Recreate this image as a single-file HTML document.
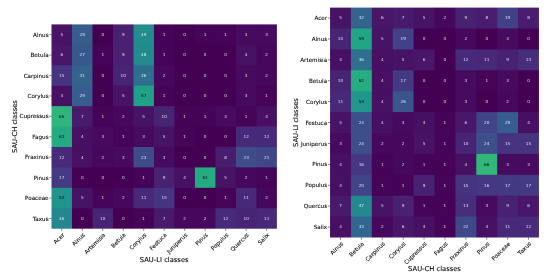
<!DOCTYPE html>
<html><head><meta charset="utf-8"><title>Confusion matrices</title>
<style>html,body{margin:0;padding:0;background:#fff;}body{width:550px;height:278px;overflow:hidden;}svg{display:block;}</style>
</head><body>
<svg width="550" height="278" viewBox="0 0 550 278" font-family="DejaVu Sans, Liberation Sans, sans-serif">
<rect width="550" height="278" fill="#fff"/>
<mask id="clCH" maskUnits="userSpaceOnUse" x="0" y="0" width="550" height="278"><rect x="51.50" y="24.40" width="225.40" height="204.30" fill="#fff"/></mask>
<g mask="url(#clCH)">
<rect x="50.30" y="23.20" width="22.89" height="22.83" fill="#471365"/>
<rect x="71.99" y="23.20" width="21.69" height="22.83" fill="#365d8d"/>
<rect x="92.48" y="23.20" width="21.69" height="22.83" fill="#440154"/>
<rect x="112.97" y="23.20" width="21.69" height="22.83" fill="#482173"/>
<rect x="133.46" y="23.20" width="21.69" height="22.83" fill="#218e8d"/>
<rect x="153.95" y="23.20" width="21.69" height="22.83" fill="#450457"/>
<rect x="174.45" y="23.20" width="21.69" height="22.83" fill="#440154"/>
<rect x="194.94" y="23.20" width="21.69" height="22.83" fill="#450457"/>
<rect x="215.43" y="23.20" width="21.69" height="22.83" fill="#450457"/>
<rect x="235.92" y="23.20" width="21.69" height="22.83" fill="#460b5e"/>
<rect x="256.41" y="23.20" width="21.69" height="22.83" fill="#460b5e"/>
<rect x="50.30" y="44.83" width="22.89" height="21.63" fill="#481769"/>
<rect x="71.99" y="44.83" width="21.69" height="21.63" fill="#38588c"/>
<rect x="92.48" y="44.83" width="21.69" height="21.63" fill="#450457"/>
<rect x="112.97" y="44.83" width="21.69" height="21.63" fill="#482173"/>
<rect x="133.46" y="44.83" width="21.69" height="21.63" fill="#228b8d"/>
<rect x="153.95" y="44.83" width="21.69" height="21.63" fill="#450457"/>
<rect x="174.45" y="44.83" width="21.69" height="21.63" fill="#440154"/>
<rect x="194.94" y="44.83" width="21.69" height="21.63" fill="#440154"/>
<rect x="215.43" y="44.83" width="21.69" height="21.63" fill="#440154"/>
<rect x="235.92" y="44.83" width="21.69" height="21.63" fill="#471063"/>
<rect x="256.41" y="44.83" width="21.69" height="21.63" fill="#46085c"/>
<rect x="50.30" y="65.26" width="22.89" height="21.63" fill="#463480"/>
<rect x="71.99" y="65.26" width="21.69" height="21.63" fill="#33628d"/>
<rect x="92.48" y="65.26" width="21.69" height="21.63" fill="#440154"/>
<rect x="112.97" y="65.26" width="21.69" height="21.63" fill="#482475"/>
<rect x="133.46" y="65.26" width="21.69" height="21.63" fill="#2e6f8e"/>
<rect x="153.95" y="65.26" width="21.69" height="21.63" fill="#46085c"/>
<rect x="174.45" y="65.26" width="21.69" height="21.63" fill="#440154"/>
<rect x="194.94" y="65.26" width="21.69" height="21.63" fill="#440154"/>
<rect x="215.43" y="65.26" width="21.69" height="21.63" fill="#440154"/>
<rect x="235.92" y="65.26" width="21.69" height="21.63" fill="#460b5e"/>
<rect x="256.41" y="65.26" width="21.69" height="21.63" fill="#46085c"/>
<rect x="50.30" y="85.69" width="22.89" height="21.63" fill="#471063"/>
<rect x="71.99" y="85.69" width="21.69" height="21.63" fill="#365d8d"/>
<rect x="92.48" y="85.69" width="21.69" height="21.63" fill="#440154"/>
<rect x="112.97" y="85.69" width="21.69" height="21.63" fill="#471365"/>
<rect x="133.46" y="85.69" width="21.69" height="21.63" fill="#1fa188"/>
<rect x="153.95" y="85.69" width="21.69" height="21.63" fill="#450457"/>
<rect x="174.45" y="85.69" width="21.69" height="21.63" fill="#440154"/>
<rect x="194.94" y="85.69" width="21.69" height="21.63" fill="#440154"/>
<rect x="215.43" y="85.69" width="21.69" height="21.63" fill="#440154"/>
<rect x="235.92" y="85.69" width="21.69" height="21.63" fill="#460b5e"/>
<rect x="256.41" y="85.69" width="21.69" height="21.63" fill="#450457"/>
<rect x="50.30" y="106.12" width="22.89" height="21.63" fill="#2fb47c"/>
<rect x="71.99" y="106.12" width="21.69" height="21.63" fill="#481a6c"/>
<rect x="92.48" y="106.12" width="21.69" height="21.63" fill="#450457"/>
<rect x="112.97" y="106.12" width="21.69" height="21.63" fill="#46085c"/>
<rect x="133.46" y="106.12" width="21.69" height="21.63" fill="#471365"/>
<rect x="153.95" y="106.12" width="21.69" height="21.63" fill="#482475"/>
<rect x="174.45" y="106.12" width="21.69" height="21.63" fill="#450457"/>
<rect x="194.94" y="106.12" width="21.69" height="21.63" fill="#450457"/>
<rect x="215.43" y="106.12" width="21.69" height="21.63" fill="#460b5e"/>
<rect x="235.92" y="106.12" width="21.69" height="21.63" fill="#450457"/>
<rect x="256.41" y="106.12" width="21.69" height="21.63" fill="#471063"/>
<rect x="50.30" y="126.55" width="22.89" height="21.63" fill="#25ab82"/>
<rect x="71.99" y="126.55" width="21.69" height="21.63" fill="#471063"/>
<rect x="92.48" y="126.55" width="21.69" height="21.63" fill="#460b5e"/>
<rect x="112.97" y="126.55" width="21.69" height="21.63" fill="#450457"/>
<rect x="133.46" y="126.55" width="21.69" height="21.63" fill="#460b5e"/>
<rect x="153.95" y="126.55" width="21.69" height="21.63" fill="#471365"/>
<rect x="174.45" y="126.55" width="21.69" height="21.63" fill="#450457"/>
<rect x="194.94" y="126.55" width="21.69" height="21.63" fill="#440154"/>
<rect x="215.43" y="126.55" width="21.69" height="21.63" fill="#440154"/>
<rect x="235.92" y="126.55" width="21.69" height="21.63" fill="#472a7a"/>
<rect x="256.41" y="126.55" width="21.69" height="21.63" fill="#472a7a"/>
<rect x="50.30" y="146.98" width="22.89" height="21.63" fill="#472a7a"/>
<rect x="71.99" y="146.98" width="21.69" height="21.63" fill="#471063"/>
<rect x="92.48" y="146.98" width="21.69" height="21.63" fill="#46085c"/>
<rect x="112.97" y="146.98" width="21.69" height="21.63" fill="#460b5e"/>
<rect x="133.46" y="146.98" width="21.69" height="21.63" fill="#3e4c8a"/>
<rect x="153.95" y="146.98" width="21.69" height="21.63" fill="#460b5e"/>
<rect x="174.45" y="146.98" width="21.69" height="21.63" fill="#440154"/>
<rect x="194.94" y="146.98" width="21.69" height="21.63" fill="#440154"/>
<rect x="215.43" y="146.98" width="21.69" height="21.63" fill="#481d6f"/>
<rect x="235.92" y="146.98" width="21.69" height="21.63" fill="#3e4c8a"/>
<rect x="256.41" y="146.98" width="21.69" height="21.63" fill="#404688"/>
<rect x="50.30" y="167.41" width="22.89" height="21.63" fill="#443a83"/>
<rect x="71.99" y="167.41" width="21.69" height="21.63" fill="#440154"/>
<rect x="92.48" y="167.41" width="21.69" height="21.63" fill="#440154"/>
<rect x="112.97" y="167.41" width="21.69" height="21.63" fill="#440154"/>
<rect x="133.46" y="167.41" width="21.69" height="21.63" fill="#450457"/>
<rect x="153.95" y="167.41" width="21.69" height="21.63" fill="#482173"/>
<rect x="174.45" y="167.41" width="21.69" height="21.63" fill="#471063"/>
<rect x="194.94" y="167.41" width="21.69" height="21.63" fill="#25ab82"/>
<rect x="215.43" y="167.41" width="21.69" height="21.63" fill="#471365"/>
<rect x="235.92" y="167.41" width="21.69" height="21.63" fill="#46085c"/>
<rect x="256.41" y="167.41" width="21.69" height="21.63" fill="#450457"/>
<rect x="50.30" y="187.84" width="22.89" height="21.63" fill="#1f958b"/>
<rect x="71.99" y="187.84" width="21.69" height="21.63" fill="#471365"/>
<rect x="92.48" y="187.84" width="21.69" height="21.63" fill="#450457"/>
<rect x="112.97" y="187.84" width="21.69" height="21.63" fill="#46085c"/>
<rect x="133.46" y="187.84" width="21.69" height="21.63" fill="#482878"/>
<rect x="153.95" y="187.84" width="21.69" height="21.63" fill="#463480"/>
<rect x="174.45" y="187.84" width="21.69" height="21.63" fill="#440154"/>
<rect x="194.94" y="187.84" width="21.69" height="21.63" fill="#440154"/>
<rect x="215.43" y="187.84" width="21.69" height="21.63" fill="#450457"/>
<rect x="235.92" y="187.84" width="21.69" height="21.63" fill="#482878"/>
<rect x="256.41" y="187.84" width="21.69" height="21.63" fill="#46085c"/>
<rect x="50.30" y="208.27" width="22.89" height="21.63" fill="#24868e"/>
<rect x="71.99" y="208.27" width="21.69" height="21.63" fill="#440154"/>
<rect x="92.48" y="208.27" width="21.69" height="21.63" fill="#482475"/>
<rect x="112.97" y="208.27" width="21.69" height="21.63" fill="#440154"/>
<rect x="133.46" y="208.27" width="21.69" height="21.63" fill="#450457"/>
<rect x="153.95" y="208.27" width="21.69" height="21.63" fill="#481a6c"/>
<rect x="174.45" y="208.27" width="21.69" height="21.63" fill="#46085c"/>
<rect x="194.94" y="208.27" width="21.69" height="21.63" fill="#46085c"/>
<rect x="215.43" y="208.27" width="21.69" height="21.63" fill="#472a7a"/>
<rect x="235.92" y="208.27" width="21.69" height="21.63" fill="#482475"/>
<rect x="256.41" y="208.27" width="21.69" height="21.63" fill="#482878"/>
</g>
<g font-size="4.2" text-anchor="middle">
<text x="61.75" y="35.93" fill="#ffffff" fill-opacity="0.82">5</text>
<text x="82.24" y="35.93" fill="#ffffff" fill-opacity="0.82">29</text>
<text x="102.73" y="35.93" fill="#ffffff" fill-opacity="0.82">0</text>
<text x="123.22" y="35.93" fill="#ffffff" fill-opacity="0.82">9</text>
<text x="143.71" y="35.93" fill="#ffffff" fill-opacity="0.82">49</text>
<text x="164.20" y="35.93" fill="#ffffff" fill-opacity="0.82">1</text>
<text x="184.69" y="35.93" fill="#ffffff" fill-opacity="0.82">0</text>
<text x="205.18" y="35.93" fill="#ffffff" fill-opacity="0.82">1</text>
<text x="225.67" y="35.93" fill="#ffffff" fill-opacity="0.82">1</text>
<text x="246.16" y="35.93" fill="#ffffff" fill-opacity="0.82">3</text>
<text x="266.65" y="35.93" fill="#ffffff" fill-opacity="0.82">3</text>
<text x="61.75" y="56.36" fill="#ffffff" fill-opacity="0.82">6</text>
<text x="82.24" y="56.36" fill="#ffffff" fill-opacity="0.82">27</text>
<text x="102.73" y="56.36" fill="#ffffff" fill-opacity="0.82">1</text>
<text x="123.22" y="56.36" fill="#ffffff" fill-opacity="0.82">9</text>
<text x="143.71" y="56.36" fill="#ffffff" fill-opacity="0.82">48</text>
<text x="164.20" y="56.36" fill="#ffffff" fill-opacity="0.82">1</text>
<text x="184.69" y="56.36" fill="#ffffff" fill-opacity="0.82">0</text>
<text x="205.18" y="56.36" fill="#ffffff" fill-opacity="0.82">0</text>
<text x="225.67" y="56.36" fill="#ffffff" fill-opacity="0.82">0</text>
<text x="246.16" y="56.36" fill="#ffffff" fill-opacity="0.82">4</text>
<text x="266.65" y="56.36" fill="#ffffff" fill-opacity="0.82">2</text>
<text x="61.75" y="76.79" fill="#ffffff" fill-opacity="0.82">15</text>
<text x="82.24" y="76.79" fill="#ffffff" fill-opacity="0.82">31</text>
<text x="102.73" y="76.79" fill="#ffffff" fill-opacity="0.82">0</text>
<text x="123.22" y="76.79" fill="#ffffff" fill-opacity="0.82">10</text>
<text x="143.71" y="76.79" fill="#ffffff" fill-opacity="0.82">36</text>
<text x="164.20" y="76.79" fill="#ffffff" fill-opacity="0.82">2</text>
<text x="184.69" y="76.79" fill="#ffffff" fill-opacity="0.82">0</text>
<text x="205.18" y="76.79" fill="#ffffff" fill-opacity="0.82">0</text>
<text x="225.67" y="76.79" fill="#ffffff" fill-opacity="0.82">0</text>
<text x="246.16" y="76.79" fill="#ffffff" fill-opacity="0.82">3</text>
<text x="266.65" y="76.79" fill="#ffffff" fill-opacity="0.82">2</text>
<text x="61.75" y="97.22" fill="#ffffff" fill-opacity="0.82">4</text>
<text x="82.24" y="97.22" fill="#ffffff" fill-opacity="0.82">29</text>
<text x="102.73" y="97.22" fill="#ffffff" fill-opacity="0.82">0</text>
<text x="123.22" y="97.22" fill="#ffffff" fill-opacity="0.82">5</text>
<text x="143.71" y="97.22" fill="#000000">57</text>
<text x="164.20" y="97.22" fill="#ffffff" fill-opacity="0.82">1</text>
<text x="184.69" y="97.22" fill="#ffffff" fill-opacity="0.82">0</text>
<text x="205.18" y="97.22" fill="#ffffff" fill-opacity="0.82">0</text>
<text x="225.67" y="97.22" fill="#ffffff" fill-opacity="0.82">0</text>
<text x="246.16" y="97.22" fill="#ffffff" fill-opacity="0.82">3</text>
<text x="266.65" y="97.22" fill="#ffffff" fill-opacity="0.82">1</text>
<text x="61.75" y="117.65" fill="#000000">65</text>
<text x="82.24" y="117.65" fill="#ffffff" fill-opacity="0.82">7</text>
<text x="102.73" y="117.65" fill="#ffffff" fill-opacity="0.82">1</text>
<text x="123.22" y="117.65" fill="#ffffff" fill-opacity="0.82">2</text>
<text x="143.71" y="117.65" fill="#ffffff" fill-opacity="0.82">5</text>
<text x="164.20" y="117.65" fill="#ffffff" fill-opacity="0.82">10</text>
<text x="184.69" y="117.65" fill="#ffffff" fill-opacity="0.82">1</text>
<text x="205.18" y="117.65" fill="#ffffff" fill-opacity="0.82">1</text>
<text x="225.67" y="117.65" fill="#ffffff" fill-opacity="0.82">3</text>
<text x="246.16" y="117.65" fill="#ffffff" fill-opacity="0.82">1</text>
<text x="266.65" y="117.65" fill="#ffffff" fill-opacity="0.82">4</text>
<text x="61.75" y="138.08" fill="#000000">61</text>
<text x="82.24" y="138.08" fill="#ffffff" fill-opacity="0.82">4</text>
<text x="102.73" y="138.08" fill="#ffffff" fill-opacity="0.82">3</text>
<text x="123.22" y="138.08" fill="#ffffff" fill-opacity="0.82">1</text>
<text x="143.71" y="138.08" fill="#ffffff" fill-opacity="0.82">3</text>
<text x="164.20" y="138.08" fill="#ffffff" fill-opacity="0.82">5</text>
<text x="184.69" y="138.08" fill="#ffffff" fill-opacity="0.82">1</text>
<text x="205.18" y="138.08" fill="#ffffff" fill-opacity="0.82">0</text>
<text x="225.67" y="138.08" fill="#ffffff" fill-opacity="0.82">0</text>
<text x="246.16" y="138.08" fill="#ffffff" fill-opacity="0.82">12</text>
<text x="266.65" y="138.08" fill="#ffffff" fill-opacity="0.82">12</text>
<text x="61.75" y="158.51" fill="#ffffff" fill-opacity="0.82">12</text>
<text x="82.24" y="158.51" fill="#ffffff" fill-opacity="0.82">4</text>
<text x="102.73" y="158.51" fill="#ffffff" fill-opacity="0.82">2</text>
<text x="123.22" y="158.51" fill="#ffffff" fill-opacity="0.82">3</text>
<text x="143.71" y="158.51" fill="#ffffff" fill-opacity="0.82">23</text>
<text x="164.20" y="158.51" fill="#ffffff" fill-opacity="0.82">3</text>
<text x="184.69" y="158.51" fill="#ffffff" fill-opacity="0.82">0</text>
<text x="205.18" y="158.51" fill="#ffffff" fill-opacity="0.82">0</text>
<text x="225.67" y="158.51" fill="#ffffff" fill-opacity="0.82">8</text>
<text x="246.16" y="158.51" fill="#ffffff" fill-opacity="0.82">23</text>
<text x="266.65" y="158.51" fill="#ffffff" fill-opacity="0.82">21</text>
<text x="61.75" y="178.94" fill="#ffffff" fill-opacity="0.82">17</text>
<text x="82.24" y="178.94" fill="#ffffff" fill-opacity="0.82">0</text>
<text x="102.73" y="178.94" fill="#ffffff" fill-opacity="0.82">0</text>
<text x="123.22" y="178.94" fill="#ffffff" fill-opacity="0.82">0</text>
<text x="143.71" y="178.94" fill="#ffffff" fill-opacity="0.82">1</text>
<text x="164.20" y="178.94" fill="#ffffff" fill-opacity="0.82">9</text>
<text x="184.69" y="178.94" fill="#ffffff" fill-opacity="0.82">4</text>
<text x="205.18" y="178.94" fill="#000000">61</text>
<text x="225.67" y="178.94" fill="#ffffff" fill-opacity="0.82">5</text>
<text x="246.16" y="178.94" fill="#ffffff" fill-opacity="0.82">2</text>
<text x="266.65" y="178.94" fill="#ffffff" fill-opacity="0.82">1</text>
<text x="61.75" y="199.37" fill="#000000">52</text>
<text x="82.24" y="199.37" fill="#ffffff" fill-opacity="0.82">5</text>
<text x="102.73" y="199.37" fill="#ffffff" fill-opacity="0.82">1</text>
<text x="123.22" y="199.37" fill="#ffffff" fill-opacity="0.82">2</text>
<text x="143.71" y="199.37" fill="#ffffff" fill-opacity="0.82">11</text>
<text x="164.20" y="199.37" fill="#ffffff" fill-opacity="0.82">15</text>
<text x="184.69" y="199.37" fill="#ffffff" fill-opacity="0.82">0</text>
<text x="205.18" y="199.37" fill="#ffffff" fill-opacity="0.82">0</text>
<text x="225.67" y="199.37" fill="#ffffff" fill-opacity="0.82">1</text>
<text x="246.16" y="199.37" fill="#ffffff" fill-opacity="0.82">11</text>
<text x="266.65" y="199.37" fill="#ffffff" fill-opacity="0.82">2</text>
<text x="61.75" y="219.80" fill="#ffffff" fill-opacity="0.82">46</text>
<text x="82.24" y="219.80" fill="#ffffff" fill-opacity="0.82">0</text>
<text x="102.73" y="219.80" fill="#ffffff" fill-opacity="0.82">10</text>
<text x="123.22" y="219.80" fill="#ffffff" fill-opacity="0.82">0</text>
<text x="143.71" y="219.80" fill="#ffffff" fill-opacity="0.82">1</text>
<text x="164.20" y="219.80" fill="#ffffff" fill-opacity="0.82">7</text>
<text x="184.69" y="219.80" fill="#ffffff" fill-opacity="0.82">2</text>
<text x="205.18" y="219.80" fill="#ffffff" fill-opacity="0.82">2</text>
<text x="225.67" y="219.80" fill="#ffffff" fill-opacity="0.82">12</text>
<text x="246.16" y="219.80" fill="#ffffff" fill-opacity="0.82">10</text>
<text x="266.65" y="219.80" fill="#ffffff" fill-opacity="0.82">11</text>
</g>
<g stroke="#000" stroke-width="0.5">
<line x1="49.40" y1="34.61" x2="51.50" y2="34.61"/>
<line x1="49.40" y1="55.05" x2="51.50" y2="55.05"/>
<line x1="49.40" y1="75.47" x2="51.50" y2="75.47"/>
<line x1="49.40" y1="95.91" x2="51.50" y2="95.91"/>
<line x1="49.40" y1="116.34" x2="51.50" y2="116.34"/>
<line x1="49.40" y1="136.76" x2="51.50" y2="136.76"/>
<line x1="49.40" y1="157.19" x2="51.50" y2="157.19"/>
<line x1="49.40" y1="177.62" x2="51.50" y2="177.62"/>
<line x1="49.40" y1="198.06" x2="51.50" y2="198.06"/>
<line x1="49.40" y1="218.49" x2="51.50" y2="218.49"/>
<line x1="61.75" y1="228.70" x2="61.75" y2="230.80"/>
<line x1="82.24" y1="228.70" x2="82.24" y2="230.80"/>
<line x1="102.73" y1="228.70" x2="102.73" y2="230.80"/>
<line x1="123.22" y1="228.70" x2="123.22" y2="230.80"/>
<line x1="143.71" y1="228.70" x2="143.71" y2="230.80"/>
<line x1="164.20" y1="228.70" x2="164.20" y2="230.80"/>
<line x1="184.69" y1="228.70" x2="184.69" y2="230.80"/>
<line x1="205.18" y1="228.70" x2="205.18" y2="230.80"/>
<line x1="225.67" y1="228.70" x2="225.67" y2="230.80"/>
<line x1="246.16" y1="228.70" x2="246.16" y2="230.80"/>
<line x1="266.65" y1="228.70" x2="266.65" y2="230.80"/>
</g>
<g font-size="5.65" fill="#000" stroke="#000" stroke-width="0.08">
<text x="48.60" y="36.75" text-anchor="end">Alnus</text>
<text x="48.60" y="57.18" text-anchor="end">Betula</text>
<text x="48.60" y="77.61" text-anchor="end">Carpinus</text>
<text x="48.60" y="98.04" text-anchor="end">Corylus</text>
<text x="48.60" y="118.47" text-anchor="end">Cupressus</text>
<text x="48.60" y="138.90" text-anchor="end">Fagus</text>
<text x="48.60" y="159.33" text-anchor="end">Fraxinus</text>
<text x="48.60" y="179.76" text-anchor="end">Pinus</text>
<text x="48.60" y="200.19" text-anchor="end">Poaceae</text>
<text x="48.60" y="220.62" text-anchor="end">Taxus</text>
<text transform="translate(61.75,232.35) rotate(-45)" x="0" y="4.29" text-anchor="end">Acer</text>
<text transform="translate(82.24,232.35) rotate(-45)" x="0" y="4.29" text-anchor="end">Alnus</text>
<text transform="translate(102.73,232.35) rotate(-45)" x="0" y="4.29" text-anchor="end">Artemisia</text>
<text transform="translate(123.22,232.35) rotate(-45)" x="0" y="4.29" text-anchor="end">Betula</text>
<text transform="translate(143.71,232.35) rotate(-45)" x="0" y="4.29" text-anchor="end">Corylus</text>
<text transform="translate(164.20,232.35) rotate(-45)" x="0" y="4.29" text-anchor="end">Festuca</text>
<text transform="translate(184.69,232.35) rotate(-45)" x="0" y="4.29" text-anchor="end">Juniperus</text>
<text transform="translate(205.18,232.35) rotate(-45)" x="0" y="4.29" text-anchor="end">Pinus</text>
<text transform="translate(225.67,232.35) rotate(-45)" x="0" y="4.29" text-anchor="end">Populus</text>
<text transform="translate(246.16,232.35) rotate(-45)" x="0" y="4.29" text-anchor="end">Quercus</text>
<text transform="translate(266.65,232.35) rotate(-45)" x="0" y="4.29" text-anchor="end">Salix</text>
</g>
<g font-size="6.75" fill="#000" stroke="#000" stroke-width="0.08" text-anchor="middle">
<text x="164.20" y="262.00">SAU-LI classes</text>
<text transform="translate(16.70,126.55) rotate(-90)">SAU-CH classes</text>
</g>
<mask id="clLI" maskUnits="userSpaceOnUse" x="0" y="0" width="550" height="278"><rect x="330.05" y="7.60" width="208.90" height="229.90" fill="#fff"/></mask>
<g mask="url(#clLI)">
<rect x="328.85" y="6.40" width="23.29" height="23.30" fill="#471365"/>
<rect x="350.94" y="6.40" width="22.09" height="23.30" fill="#32648e"/>
<rect x="371.83" y="6.40" width="22.09" height="23.30" fill="#481769"/>
<rect x="392.72" y="6.40" width="22.09" height="23.30" fill="#481a6c"/>
<rect x="413.61" y="6.40" width="22.09" height="23.30" fill="#471365"/>
<rect x="434.50" y="6.40" width="22.09" height="23.30" fill="#46085c"/>
<rect x="455.39" y="6.40" width="22.09" height="23.30" fill="#482173"/>
<rect x="476.28" y="6.40" width="22.09" height="23.30" fill="#481d6f"/>
<rect x="497.17" y="6.40" width="22.09" height="23.30" fill="#424086"/>
<rect x="518.06" y="6.40" width="22.09" height="23.30" fill="#481d6f"/>
<rect x="328.85" y="28.50" width="23.29" height="22.10" fill="#482475"/>
<rect x="350.94" y="28.50" width="22.09" height="22.10" fill="#21a685"/>
<rect x="371.83" y="28.50" width="22.09" height="22.10" fill="#471365"/>
<rect x="392.72" y="28.50" width="22.09" height="22.10" fill="#424086"/>
<rect x="413.61" y="28.50" width="22.09" height="22.10" fill="#440154"/>
<rect x="434.50" y="28.50" width="22.09" height="22.10" fill="#440154"/>
<rect x="455.39" y="28.50" width="22.09" height="22.10" fill="#46085c"/>
<rect x="476.28" y="28.50" width="22.09" height="22.10" fill="#440154"/>
<rect x="497.17" y="28.50" width="22.09" height="22.10" fill="#460b5e"/>
<rect x="518.06" y="28.50" width="22.09" height="22.10" fill="#440154"/>
<rect x="328.85" y="49.40" width="23.29" height="22.10" fill="#471063"/>
<rect x="350.94" y="49.40" width="22.09" height="22.10" fill="#2e6f8e"/>
<rect x="371.83" y="49.40" width="22.09" height="22.10" fill="#471063"/>
<rect x="392.72" y="49.40" width="22.09" height="22.10" fill="#471365"/>
<rect x="413.61" y="49.40" width="22.09" height="22.10" fill="#481769"/>
<rect x="434.50" y="49.40" width="22.09" height="22.10" fill="#440154"/>
<rect x="455.39" y="49.40" width="22.09" height="22.10" fill="#472a7a"/>
<rect x="476.28" y="49.40" width="22.09" height="22.10" fill="#482878"/>
<rect x="497.17" y="49.40" width="22.09" height="22.10" fill="#482173"/>
<rect x="518.06" y="49.40" width="22.09" height="22.10" fill="#472e7c"/>
<rect x="328.85" y="70.30" width="23.29" height="22.10" fill="#482475"/>
<rect x="350.94" y="70.30" width="22.09" height="22.10" fill="#26ad81"/>
<rect x="371.83" y="70.30" width="22.09" height="22.10" fill="#471063"/>
<rect x="392.72" y="70.30" width="22.09" height="22.10" fill="#443a83"/>
<rect x="413.61" y="70.30" width="22.09" height="22.10" fill="#440154"/>
<rect x="434.50" y="70.30" width="22.09" height="22.10" fill="#440154"/>
<rect x="455.39" y="70.30" width="22.09" height="22.10" fill="#460b5e"/>
<rect x="476.28" y="70.30" width="22.09" height="22.10" fill="#450457"/>
<rect x="497.17" y="70.30" width="22.09" height="22.10" fill="#460b5e"/>
<rect x="518.06" y="70.30" width="22.09" height="22.10" fill="#440154"/>
<rect x="328.85" y="91.20" width="23.29" height="22.10" fill="#482878"/>
<rect x="350.94" y="91.20" width="22.09" height="22.10" fill="#1f978b"/>
<rect x="371.83" y="91.20" width="22.09" height="22.10" fill="#471063"/>
<rect x="392.72" y="91.20" width="22.09" height="22.10" fill="#3a548c"/>
<rect x="413.61" y="91.20" width="22.09" height="22.10" fill="#440154"/>
<rect x="434.50" y="91.20" width="22.09" height="22.10" fill="#440154"/>
<rect x="455.39" y="91.20" width="22.09" height="22.10" fill="#460b5e"/>
<rect x="476.28" y="91.20" width="22.09" height="22.10" fill="#440154"/>
<rect x="497.17" y="91.20" width="22.09" height="22.10" fill="#46085c"/>
<rect x="518.06" y="91.20" width="22.09" height="22.10" fill="#440154"/>
<rect x="328.85" y="112.10" width="23.29" height="22.10" fill="#471365"/>
<rect x="350.94" y="112.10" width="22.09" height="22.10" fill="#3c4f8a"/>
<rect x="371.83" y="112.10" width="22.09" height="22.10" fill="#471063"/>
<rect x="392.72" y="112.10" width="22.09" height="22.10" fill="#460b5e"/>
<rect x="413.61" y="112.10" width="22.09" height="22.10" fill="#471063"/>
<rect x="434.50" y="112.10" width="22.09" height="22.10" fill="#450457"/>
<rect x="455.39" y="112.10" width="22.09" height="22.10" fill="#481769"/>
<rect x="476.28" y="112.10" width="22.09" height="22.10" fill="#414487"/>
<rect x="497.17" y="112.10" width="22.09" height="22.10" fill="#365d8d"/>
<rect x="518.06" y="112.10" width="22.09" height="22.10" fill="#471063"/>
<rect x="328.85" y="133.00" width="23.29" height="22.10" fill="#460b5e"/>
<rect x="350.94" y="133.00" width="22.09" height="22.10" fill="#3c4f8a"/>
<rect x="371.83" y="133.00" width="22.09" height="22.10" fill="#46085c"/>
<rect x="392.72" y="133.00" width="22.09" height="22.10" fill="#46085c"/>
<rect x="413.61" y="133.00" width="22.09" height="22.10" fill="#471365"/>
<rect x="434.50" y="133.00" width="22.09" height="22.10" fill="#450457"/>
<rect x="455.39" y="133.00" width="22.09" height="22.10" fill="#482475"/>
<rect x="476.28" y="133.00" width="22.09" height="22.10" fill="#3c4f8a"/>
<rect x="497.17" y="133.00" width="22.09" height="22.10" fill="#463480"/>
<rect x="518.06" y="133.00" width="22.09" height="22.10" fill="#463480"/>
<rect x="328.85" y="153.90" width="23.29" height="22.10" fill="#471063"/>
<rect x="350.94" y="153.90" width="22.09" height="22.10" fill="#453781"/>
<rect x="371.83" y="153.90" width="22.09" height="22.10" fill="#450457"/>
<rect x="392.72" y="153.90" width="22.09" height="22.10" fill="#46085c"/>
<rect x="413.61" y="153.90" width="22.09" height="22.10" fill="#450457"/>
<rect x="434.50" y="153.90" width="22.09" height="22.10" fill="#450457"/>
<rect x="455.39" y="153.90" width="22.09" height="22.10" fill="#471063"/>
<rect x="476.28" y="153.90" width="22.09" height="22.10" fill="#32b67a"/>
<rect x="497.17" y="153.90" width="22.09" height="22.10" fill="#460b5e"/>
<rect x="518.06" y="153.90" width="22.09" height="22.10" fill="#460b5e"/>
<rect x="328.85" y="174.80" width="23.29" height="22.10" fill="#471063"/>
<rect x="350.94" y="174.80" width="22.09" height="22.10" fill="#414487"/>
<rect x="371.83" y="174.80" width="22.09" height="22.10" fill="#450457"/>
<rect x="392.72" y="174.80" width="22.09" height="22.10" fill="#450457"/>
<rect x="413.61" y="174.80" width="22.09" height="22.10" fill="#482173"/>
<rect x="434.50" y="174.80" width="22.09" height="22.10" fill="#450457"/>
<rect x="455.39" y="174.80" width="22.09" height="22.10" fill="#463480"/>
<rect x="476.28" y="174.80" width="22.09" height="22.10" fill="#453781"/>
<rect x="497.17" y="174.80" width="22.09" height="22.10" fill="#443a83"/>
<rect x="518.06" y="174.80" width="22.09" height="22.10" fill="#443a83"/>
<rect x="328.85" y="195.70" width="23.29" height="22.10" fill="#481a6c"/>
<rect x="350.94" y="195.70" width="22.09" height="22.10" fill="#23898e"/>
<rect x="371.83" y="195.70" width="22.09" height="22.10" fill="#471365"/>
<rect x="392.72" y="195.70" width="22.09" height="22.10" fill="#482173"/>
<rect x="413.61" y="195.70" width="22.09" height="22.10" fill="#450457"/>
<rect x="434.50" y="195.70" width="22.09" height="22.10" fill="#450457"/>
<rect x="455.39" y="195.70" width="22.09" height="22.10" fill="#472e7c"/>
<rect x="476.28" y="195.70" width="22.09" height="22.10" fill="#460b5e"/>
<rect x="497.17" y="195.70" width="22.09" height="22.10" fill="#482173"/>
<rect x="518.06" y="195.70" width="22.09" height="22.10" fill="#481769"/>
<rect x="328.85" y="216.60" width="23.29" height="22.10" fill="#471063"/>
<rect x="350.94" y="216.60" width="22.09" height="22.10" fill="#31678e"/>
<rect x="371.83" y="216.60" width="22.09" height="22.10" fill="#46085c"/>
<rect x="392.72" y="216.60" width="22.09" height="22.10" fill="#481769"/>
<rect x="413.61" y="216.60" width="22.09" height="22.10" fill="#471063"/>
<rect x="434.50" y="216.60" width="22.09" height="22.10" fill="#450457"/>
<rect x="455.39" y="216.60" width="22.09" height="22.10" fill="#3e4989"/>
<rect x="476.28" y="216.60" width="22.09" height="22.10" fill="#471063"/>
<rect x="497.17" y="216.60" width="22.09" height="22.10" fill="#482878"/>
<rect x="518.06" y="216.60" width="22.09" height="22.10" fill="#472a7a"/>
</g>
<g font-size="4.2" text-anchor="middle">
<text x="340.50" y="19.36" fill="#ffffff" fill-opacity="0.82">5</text>
<text x="361.38" y="19.36" fill="#ffffff" fill-opacity="0.82">32</text>
<text x="382.28" y="19.36" fill="#ffffff" fill-opacity="0.82">6</text>
<text x="403.17" y="19.36" fill="#ffffff" fill-opacity="0.82">7</text>
<text x="424.06" y="19.36" fill="#ffffff" fill-opacity="0.82">5</text>
<text x="444.95" y="19.36" fill="#ffffff" fill-opacity="0.82">2</text>
<text x="465.84" y="19.36" fill="#ffffff" fill-opacity="0.82">9</text>
<text x="486.73" y="19.36" fill="#ffffff" fill-opacity="0.82">8</text>
<text x="507.62" y="19.36" fill="#ffffff" fill-opacity="0.82">19</text>
<text x="528.51" y="19.36" fill="#ffffff" fill-opacity="0.82">8</text>
<text x="340.50" y="40.26" fill="#ffffff" fill-opacity="0.82">10</text>
<text x="361.38" y="40.26" fill="#000000">59</text>
<text x="382.28" y="40.26" fill="#ffffff" fill-opacity="0.82">5</text>
<text x="403.17" y="40.26" fill="#ffffff" fill-opacity="0.82">19</text>
<text x="424.06" y="40.26" fill="#ffffff" fill-opacity="0.82">0</text>
<text x="444.95" y="40.26" fill="#ffffff" fill-opacity="0.82">0</text>
<text x="465.84" y="40.26" fill="#ffffff" fill-opacity="0.82">2</text>
<text x="486.73" y="40.26" fill="#ffffff" fill-opacity="0.82">0</text>
<text x="507.62" y="40.26" fill="#ffffff" fill-opacity="0.82">3</text>
<text x="528.51" y="40.26" fill="#ffffff" fill-opacity="0.82">0</text>
<text x="340.50" y="61.16" fill="#ffffff" fill-opacity="0.82">4</text>
<text x="361.38" y="61.16" fill="#ffffff" fill-opacity="0.82">36</text>
<text x="382.28" y="61.16" fill="#ffffff" fill-opacity="0.82">4</text>
<text x="403.17" y="61.16" fill="#ffffff" fill-opacity="0.82">5</text>
<text x="424.06" y="61.16" fill="#ffffff" fill-opacity="0.82">6</text>
<text x="444.95" y="61.16" fill="#ffffff" fill-opacity="0.82">0</text>
<text x="465.84" y="61.16" fill="#ffffff" fill-opacity="0.82">12</text>
<text x="486.73" y="61.16" fill="#ffffff" fill-opacity="0.82">11</text>
<text x="507.62" y="61.16" fill="#ffffff" fill-opacity="0.82">9</text>
<text x="528.51" y="61.16" fill="#ffffff" fill-opacity="0.82">13</text>
<text x="340.50" y="82.06" fill="#ffffff" fill-opacity="0.82">10</text>
<text x="361.38" y="82.06" fill="#000000">62</text>
<text x="382.28" y="82.06" fill="#ffffff" fill-opacity="0.82">4</text>
<text x="403.17" y="82.06" fill="#ffffff" fill-opacity="0.82">17</text>
<text x="424.06" y="82.06" fill="#ffffff" fill-opacity="0.82">0</text>
<text x="444.95" y="82.06" fill="#ffffff" fill-opacity="0.82">0</text>
<text x="465.84" y="82.06" fill="#ffffff" fill-opacity="0.82">3</text>
<text x="486.73" y="82.06" fill="#ffffff" fill-opacity="0.82">1</text>
<text x="507.62" y="82.06" fill="#ffffff" fill-opacity="0.82">3</text>
<text x="528.51" y="82.06" fill="#ffffff" fill-opacity="0.82">0</text>
<text x="340.50" y="102.96" fill="#ffffff" fill-opacity="0.82">11</text>
<text x="361.38" y="102.96" fill="#000000">53</text>
<text x="382.28" y="102.96" fill="#ffffff" fill-opacity="0.82">4</text>
<text x="403.17" y="102.96" fill="#ffffff" fill-opacity="0.82">26</text>
<text x="424.06" y="102.96" fill="#ffffff" fill-opacity="0.82">0</text>
<text x="444.95" y="102.96" fill="#ffffff" fill-opacity="0.82">0</text>
<text x="465.84" y="102.96" fill="#ffffff" fill-opacity="0.82">3</text>
<text x="486.73" y="102.96" fill="#ffffff" fill-opacity="0.82">0</text>
<text x="507.62" y="102.96" fill="#ffffff" fill-opacity="0.82">2</text>
<text x="528.51" y="102.96" fill="#ffffff" fill-opacity="0.82">0</text>
<text x="340.50" y="123.86" fill="#ffffff" fill-opacity="0.82">5</text>
<text x="361.38" y="123.86" fill="#ffffff" fill-opacity="0.82">24</text>
<text x="382.28" y="123.86" fill="#ffffff" fill-opacity="0.82">4</text>
<text x="403.17" y="123.86" fill="#ffffff" fill-opacity="0.82">3</text>
<text x="424.06" y="123.86" fill="#ffffff" fill-opacity="0.82">4</text>
<text x="444.95" y="123.86" fill="#ffffff" fill-opacity="0.82">1</text>
<text x="465.84" y="123.86" fill="#ffffff" fill-opacity="0.82">6</text>
<text x="486.73" y="123.86" fill="#ffffff" fill-opacity="0.82">20</text>
<text x="507.62" y="123.86" fill="#ffffff" fill-opacity="0.82">29</text>
<text x="528.51" y="123.86" fill="#ffffff" fill-opacity="0.82">4</text>
<text x="340.50" y="144.76" fill="#ffffff" fill-opacity="0.82">3</text>
<text x="361.38" y="144.76" fill="#ffffff" fill-opacity="0.82">24</text>
<text x="382.28" y="144.76" fill="#ffffff" fill-opacity="0.82">2</text>
<text x="403.17" y="144.76" fill="#ffffff" fill-opacity="0.82">2</text>
<text x="424.06" y="144.76" fill="#ffffff" fill-opacity="0.82">5</text>
<text x="444.95" y="144.76" fill="#ffffff" fill-opacity="0.82">1</text>
<text x="465.84" y="144.76" fill="#ffffff" fill-opacity="0.82">10</text>
<text x="486.73" y="144.76" fill="#ffffff" fill-opacity="0.82">24</text>
<text x="507.62" y="144.76" fill="#ffffff" fill-opacity="0.82">15</text>
<text x="528.51" y="144.76" fill="#ffffff" fill-opacity="0.82">15</text>
<text x="340.50" y="165.66" fill="#ffffff" fill-opacity="0.82">4</text>
<text x="361.38" y="165.66" fill="#ffffff" fill-opacity="0.82">16</text>
<text x="382.28" y="165.66" fill="#ffffff" fill-opacity="0.82">1</text>
<text x="403.17" y="165.66" fill="#ffffff" fill-opacity="0.82">2</text>
<text x="424.06" y="165.66" fill="#ffffff" fill-opacity="0.82">1</text>
<text x="444.95" y="165.66" fill="#ffffff" fill-opacity="0.82">1</text>
<text x="465.84" y="165.66" fill="#ffffff" fill-opacity="0.82">4</text>
<text x="486.73" y="165.66" fill="#000000">66</text>
<text x="507.62" y="165.66" fill="#ffffff" fill-opacity="0.82">3</text>
<text x="528.51" y="165.66" fill="#ffffff" fill-opacity="0.82">3</text>
<text x="340.50" y="186.56" fill="#ffffff" fill-opacity="0.82">4</text>
<text x="361.38" y="186.56" fill="#ffffff" fill-opacity="0.82">20</text>
<text x="382.28" y="186.56" fill="#ffffff" fill-opacity="0.82">1</text>
<text x="403.17" y="186.56" fill="#ffffff" fill-opacity="0.82">1</text>
<text x="424.06" y="186.56" fill="#ffffff" fill-opacity="0.82">9</text>
<text x="444.95" y="186.56" fill="#ffffff" fill-opacity="0.82">1</text>
<text x="465.84" y="186.56" fill="#ffffff" fill-opacity="0.82">15</text>
<text x="486.73" y="186.56" fill="#ffffff" fill-opacity="0.82">16</text>
<text x="507.62" y="186.56" fill="#ffffff" fill-opacity="0.82">17</text>
<text x="528.51" y="186.56" fill="#ffffff" fill-opacity="0.82">17</text>
<text x="340.50" y="207.46" fill="#ffffff" fill-opacity="0.82">7</text>
<text x="361.38" y="207.46" fill="#ffffff" fill-opacity="0.82">47</text>
<text x="382.28" y="207.46" fill="#ffffff" fill-opacity="0.82">5</text>
<text x="403.17" y="207.46" fill="#ffffff" fill-opacity="0.82">9</text>
<text x="424.06" y="207.46" fill="#ffffff" fill-opacity="0.82">1</text>
<text x="444.95" y="207.46" fill="#ffffff" fill-opacity="0.82">1</text>
<text x="465.84" y="207.46" fill="#ffffff" fill-opacity="0.82">13</text>
<text x="486.73" y="207.46" fill="#ffffff" fill-opacity="0.82">3</text>
<text x="507.62" y="207.46" fill="#ffffff" fill-opacity="0.82">9</text>
<text x="528.51" y="207.46" fill="#ffffff" fill-opacity="0.82">6</text>
<text x="340.50" y="228.36" fill="#ffffff" fill-opacity="0.82">4</text>
<text x="361.38" y="228.36" fill="#ffffff" fill-opacity="0.82">33</text>
<text x="382.28" y="228.36" fill="#ffffff" fill-opacity="0.82">2</text>
<text x="403.17" y="228.36" fill="#ffffff" fill-opacity="0.82">6</text>
<text x="424.06" y="228.36" fill="#ffffff" fill-opacity="0.82">4</text>
<text x="444.95" y="228.36" fill="#ffffff" fill-opacity="0.82">1</text>
<text x="465.84" y="228.36" fill="#ffffff" fill-opacity="0.82">22</text>
<text x="486.73" y="228.36" fill="#ffffff" fill-opacity="0.82">4</text>
<text x="507.62" y="228.36" fill="#ffffff" fill-opacity="0.82">11</text>
<text x="528.51" y="228.36" fill="#ffffff" fill-opacity="0.82">12</text>
</g>
<g stroke="#000" stroke-width="0.5">
<line x1="327.95" y1="18.05" x2="330.05" y2="18.05"/>
<line x1="327.95" y1="38.95" x2="330.05" y2="38.95"/>
<line x1="327.95" y1="59.85" x2="330.05" y2="59.85"/>
<line x1="327.95" y1="80.75" x2="330.05" y2="80.75"/>
<line x1="327.95" y1="101.65" x2="330.05" y2="101.65"/>
<line x1="327.95" y1="122.55" x2="330.05" y2="122.55"/>
<line x1="327.95" y1="143.45" x2="330.05" y2="143.45"/>
<line x1="327.95" y1="164.35" x2="330.05" y2="164.35"/>
<line x1="327.95" y1="185.25" x2="330.05" y2="185.25"/>
<line x1="327.95" y1="206.15" x2="330.05" y2="206.15"/>
<line x1="327.95" y1="227.05" x2="330.05" y2="227.05"/>
<line x1="340.50" y1="237.50" x2="340.50" y2="239.60"/>
<line x1="361.38" y1="237.50" x2="361.38" y2="239.60"/>
<line x1="382.28" y1="237.50" x2="382.28" y2="239.60"/>
<line x1="403.17" y1="237.50" x2="403.17" y2="239.60"/>
<line x1="424.06" y1="237.50" x2="424.06" y2="239.60"/>
<line x1="444.95" y1="237.50" x2="444.95" y2="239.60"/>
<line x1="465.84" y1="237.50" x2="465.84" y2="239.60"/>
<line x1="486.73" y1="237.50" x2="486.73" y2="239.60"/>
<line x1="507.62" y1="237.50" x2="507.62" y2="239.60"/>
<line x1="528.51" y1="237.50" x2="528.51" y2="239.60"/>
</g>
<g font-size="5.65" fill="#000" stroke="#000" stroke-width="0.08">
<text x="327.15" y="20.18" text-anchor="end">Acer</text>
<text x="327.15" y="41.08" text-anchor="end">Alnus</text>
<text x="327.15" y="61.98" text-anchor="end">Artemisia</text>
<text x="327.15" y="82.88" text-anchor="end">Betula</text>
<text x="327.15" y="103.78" text-anchor="end">Corylus</text>
<text x="327.15" y="124.68" text-anchor="end">Festuca</text>
<text x="327.15" y="145.58" text-anchor="end">Juniperus</text>
<text x="327.15" y="166.48" text-anchor="end">Pinus</text>
<text x="327.15" y="187.38" text-anchor="end">Populus</text>
<text x="327.15" y="208.28" text-anchor="end">Quercus</text>
<text x="327.15" y="229.18" text-anchor="end">Salix</text>
<text transform="translate(340.50,241.15) rotate(-45)" x="0" y="4.29" text-anchor="end">Alnus</text>
<text transform="translate(361.38,241.15) rotate(-45)" x="0" y="4.29" text-anchor="end">Betula</text>
<text transform="translate(382.28,241.15) rotate(-45)" x="0" y="4.29" text-anchor="end">Carpinus</text>
<text transform="translate(403.17,241.15) rotate(-45)" x="0" y="4.29" text-anchor="end">Corylus</text>
<text transform="translate(424.06,241.15) rotate(-45)" x="0" y="4.29" text-anchor="end">Cupressus</text>
<text transform="translate(444.95,241.15) rotate(-45)" x="0" y="4.29" text-anchor="end">Fagus</text>
<text transform="translate(465.84,241.15) rotate(-45)" x="0" y="4.29" text-anchor="end">Fraxinus</text>
<text transform="translate(486.73,241.15) rotate(-45)" x="0" y="4.29" text-anchor="end">Pinus</text>
<text transform="translate(507.62,241.15) rotate(-45)" x="0" y="4.29" text-anchor="end">Poaceae</text>
<text transform="translate(528.51,241.15) rotate(-45)" x="0" y="4.29" text-anchor="end">Taxus</text>
</g>
<g font-size="6.75" fill="#000" stroke="#000" stroke-width="0.08" text-anchor="middle">
<text x="434.50" y="271.40">SAU-CH classes</text>
<text transform="translate(297.60,122.55) rotate(-90)">SAU-LI classes</text>
</g>
</svg>
</body></html>
